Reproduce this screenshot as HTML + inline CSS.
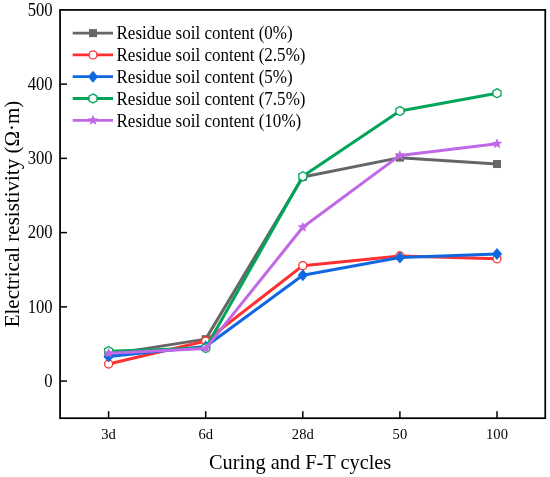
<!DOCTYPE html>
<html><head><meta charset="utf-8"><style>
html,body{margin:0;padding:0;background:#fff;}
svg{display:block;will-change:transform;}
text{font-family:"Liberation Serif",serif;fill:#000;}
</style></head><body>
<svg width="550" height="477" viewBox="0 0 550 477">
<rect width="550" height="477" fill="#fff"/>
<polyline points="108.60,354.36 205.70,339.14 302.80,176.93 399.90,157.63 497.00,164.01" fill="none" stroke="#666666" stroke-width="3" stroke-linejoin="round"/>
<rect x="104.60" y="350.36" width="8" height="8" fill="#666666"/>
<rect x="201.70" y="335.14" width="8" height="8" fill="#666666"/>
<rect x="298.80" y="172.93" width="8" height="8" fill="#666666"/>
<rect x="395.90" y="153.63" width="8" height="8" fill="#666666"/>
<rect x="493.00" y="160.01" width="8" height="8" fill="#666666"/>
<polyline points="108.60,364.01 205.70,340.99 302.80,265.64 399.90,255.99 497.00,258.81" fill="none" stroke="#FF3030" stroke-width="3" stroke-linejoin="round"/>
<circle cx="108.60" cy="364.01" r="4" fill="#fff" stroke="#FF3030" stroke-width="1.3"/>
<circle cx="205.70" cy="340.99" r="4" fill="#fff" stroke="#FF3030" stroke-width="1.3"/>
<circle cx="302.80" cy="265.64" r="4" fill="#fff" stroke="#FF3030" stroke-width="1.3"/>
<circle cx="399.90" cy="255.99" r="4" fill="#fff" stroke="#FF3030" stroke-width="1.3"/>
<circle cx="497.00" cy="258.81" r="4" fill="#fff" stroke="#FF3030" stroke-width="1.3"/>
<polyline points="108.60,356.58 205.70,346.56 302.80,275.29 399.90,257.48 497.00,254.06" fill="none" stroke="#1068E0" stroke-width="3" stroke-linejoin="round"/>
<path d="M108.60 350.58L113.70 356.58L108.60 362.58L103.50 356.58Z" fill="#1068E0"/>
<path d="M205.70 340.56L210.80 346.56L205.70 352.56L200.60 346.56Z" fill="#1068E0"/>
<path d="M302.80 269.29L307.90 275.29L302.80 281.29L297.70 275.29Z" fill="#1068E0"/>
<path d="M399.90 251.48L405.00 257.48L399.90 263.48L394.80 257.48Z" fill="#1068E0"/>
<path d="M497.00 248.06L502.10 254.06L497.00 260.06L491.90 254.06Z" fill="#1068E0"/>
<polyline points="108.60,351.16 205.70,347.97 302.80,176.34 399.90,111.01 497.00,93.27" fill="none" stroke="#00A55A" stroke-width="3" stroke-linejoin="round"/>
<polygon points="108.60,346.56 112.58,348.86 112.58,353.46 108.60,355.76 104.62,353.46 104.62,348.86" fill="#fff" stroke="#00A55A" stroke-width="1.3"/>
<polygon points="205.70,343.37 209.68,345.67 209.68,350.27 205.70,352.57 201.72,350.27 201.72,345.67" fill="#fff" stroke="#00A55A" stroke-width="1.3"/>
<polygon points="302.80,171.74 306.78,174.04 306.78,178.64 302.80,180.94 298.82,178.64 298.82,174.04" fill="#fff" stroke="#00A55A" stroke-width="1.3"/>
<polygon points="399.90,106.41 403.88,108.71 403.88,113.31 399.90,115.61 395.92,113.31 395.92,108.71" fill="#fff" stroke="#00A55A" stroke-width="1.3"/>
<polygon points="497.00,88.67 500.98,90.97 500.98,95.57 497.00,97.87 493.02,95.57 493.02,90.97" fill="#fff" stroke="#00A55A" stroke-width="1.3"/>
<polyline points="108.60,353.17 205.70,348.42 302.80,227.26 399.90,155.40 497.00,143.75" fill="none" stroke="#C068E6" stroke-width="3" stroke-linejoin="round"/>
<polygon points="108.60,347.67 110.07,351.15 113.83,351.47 110.98,353.94 111.83,357.62 108.60,355.67 105.37,357.62 106.22,353.94 103.37,351.47 107.13,351.15" fill="#C068E6"/>
<polygon points="205.70,342.92 207.17,346.40 210.93,346.72 208.08,349.19 208.93,352.87 205.70,350.92 202.47,352.87 203.32,349.19 200.47,346.72 204.23,346.40" fill="#C068E6"/>
<polygon points="302.80,221.76 304.27,225.24 308.03,225.56 305.18,228.04 306.03,231.71 302.80,229.76 299.57,231.71 300.42,228.04 297.57,225.56 301.33,225.24" fill="#C068E6"/>
<polygon points="399.90,149.90 401.37,153.38 405.13,153.70 402.28,156.18 403.13,159.85 399.90,157.90 396.67,159.85 397.52,156.18 394.67,153.70 398.43,153.38" fill="#C068E6"/>
<polygon points="497.00,138.25 498.47,141.73 502.23,142.05 499.38,144.52 500.23,148.20 497.00,146.25 493.77,148.20 494.62,144.52 491.77,142.05 495.53,141.73" fill="#C068E6"/>
<rect x="60.05" y="9.9" width="485.2" height="408.3" fill="none" stroke="#000" stroke-width="1.75"/>
<line x1="60" y1="381.08" x2="67" y2="381.08" stroke="#000" stroke-width="1.5"/>
<line x1="60" y1="306.85" x2="67" y2="306.85" stroke="#000" stroke-width="1.5"/>
<line x1="60" y1="232.61" x2="67" y2="232.61" stroke="#000" stroke-width="1.5"/>
<line x1="60" y1="158.37" x2="67" y2="158.37" stroke="#000" stroke-width="1.5"/>
<line x1="60" y1="84.14" x2="67" y2="84.14" stroke="#000" stroke-width="1.5"/>
<text transform="translate(52.6,387.28) scale(0.925,1)" font-size="18" text-anchor="end">0</text>
<text transform="translate(52.6,312.55) scale(0.925,1)" font-size="18" text-anchor="end">100</text>
<text transform="translate(52.6,238.31) scale(0.925,1)" font-size="18" text-anchor="end">200</text>
<text transform="translate(52.6,164.07) scale(0.925,1)" font-size="18" text-anchor="end">300</text>
<text transform="translate(52.6,89.84) scale(0.925,1)" font-size="18" text-anchor="end">400</text>
<text transform="translate(52.6,16.10) scale(0.925,1)" font-size="18" text-anchor="end">500</text>
<line x1="108.60" y1="411.20" x2="108.60" y2="418.20" stroke="#000" stroke-width="1.5"/>
<text x="101.31" y="439.1" font-size="15.5" textLength="14.57" lengthAdjust="spacingAndGlyphs">3d</text>
<line x1="205.70" y1="411.20" x2="205.70" y2="418.20" stroke="#000" stroke-width="1.5"/>
<text x="198.41" y="439.1" font-size="15.5" textLength="14.57" lengthAdjust="spacingAndGlyphs">6d</text>
<line x1="302.80" y1="411.20" x2="302.80" y2="418.20" stroke="#000" stroke-width="1.5"/>
<text x="291.87" y="439.1" font-size="15.5" textLength="21.86" lengthAdjust="spacingAndGlyphs">28d</text>
<line x1="399.90" y1="411.20" x2="399.90" y2="418.20" stroke="#000" stroke-width="1.5"/>
<text x="392.61" y="439.1" font-size="15.5" textLength="14.57" lengthAdjust="spacingAndGlyphs">50</text>
<line x1="497.00" y1="411.20" x2="497.00" y2="418.20" stroke="#000" stroke-width="1.5"/>
<text x="486.07" y="439.1" font-size="15.5" textLength="21.86" lengthAdjust="spacingAndGlyphs">100</text>
<line x1="72.7" y1="33.10" x2="113" y2="33.10" stroke="#666666" stroke-width="2.8"/>
<rect x="89.00" y="29.10" width="8" height="8" fill="#666666"/>
<text x="116.5" y="39.40" font-size="18" textLength="176.21" lengthAdjust="spacingAndGlyphs">Residue soil content (0%)</text>
<line x1="72.7" y1="54.90" x2="113" y2="54.90" stroke="#FF3030" stroke-width="2.8"/>
<circle cx="93.00" cy="54.90" r="4" fill="#fff" stroke="#FF3030" stroke-width="1.3"/>
<text x="116.5" y="61.20" font-size="18" textLength="188.97" lengthAdjust="spacingAndGlyphs">Residue soil content (2.5%)</text>
<line x1="72.7" y1="76.70" x2="113" y2="76.70" stroke="#1068E0" stroke-width="2.8"/>
<path d="M93.00 70.70L98.10 76.70L93.00 82.70L87.90 76.70Z" fill="#1068E0"/>
<text x="116.5" y="83.00" font-size="18" textLength="176.21" lengthAdjust="spacingAndGlyphs">Residue soil content (5%)</text>
<line x1="72.7" y1="98.50" x2="113" y2="98.50" stroke="#00A55A" stroke-width="2.8"/>
<polygon points="93.00,93.90 96.98,96.20 96.98,100.80 93.00,103.10 89.02,100.80 89.02,96.20" fill="#fff" stroke="#00A55A" stroke-width="1.3"/>
<text x="116.5" y="104.80" font-size="18" textLength="188.97" lengthAdjust="spacingAndGlyphs">Residue soil content (7.5%)</text>
<line x1="72.7" y1="120.30" x2="113" y2="120.30" stroke="#C068E6" stroke-width="2.8"/>
<polygon points="93.00,114.80 94.47,118.28 98.23,118.60 95.38,121.07 96.23,124.75 93.00,122.80 89.77,124.75 90.62,121.07 87.77,118.60 91.53,118.28" fill="#C068E6"/>
<text x="116.5" y="126.60" font-size="18" textLength="184.72" lengthAdjust="spacingAndGlyphs">Residue soil content (10%)</text>
<text x="209" y="468.5" font-size="21" textLength="182.3" lengthAdjust="spacingAndGlyphs">Curing and F-T cycles</text>
<text transform="translate(19,214) rotate(-90)" x="0" y="0" font-size="21" text-anchor="middle">Electrical resistivity (Ω·m)</text>
</svg>
</body></html>
